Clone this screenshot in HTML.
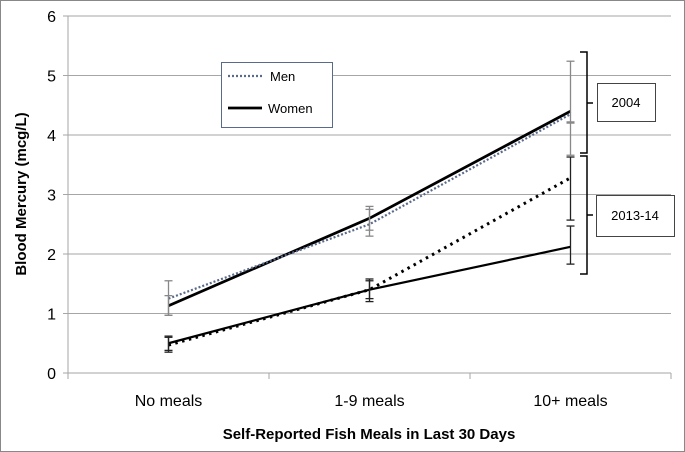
<!DOCTYPE html>
<html><head><meta charset="utf-8"><style>
body{margin:0;background:#fff}
svg{display:block;font-family:"Liberation Sans",sans-serif}
</style></head><body>
<svg id="chart" width="685" height="452" viewBox="0 0 685 452">
<rect x="0.5" y="0.5" width="684" height="451" fill="#fff" stroke="#888"/>
<g id="grid"></g><g id="axes"></g><g id="series"></g><g id="errs"></g>
<text transform="translate(26,194) rotate(-90)" text-anchor="middle" font-size="15" font-weight="bold">Blood Mercury (mcg/L)</text>
<text x="369" y="439" text-anchor="middle" font-size="15" font-weight="bold">Self-Reported Fish Meals in Last 30 Days</text>
<g>
<rect x="221.5" y="62.5" width="111" height="65" fill="#fff" stroke="#5a6a8a"/>
<line x1="228" y1="76" x2="262" y2="76" stroke="#5a6a8a" stroke-width="2.2" stroke-dasharray="2,2"/>
<text x="270" y="81" font-size="13">Men</text>
<line x1="228" y1="108" x2="262" y2="108" stroke="#000" stroke-width="2.8"/>
<text x="268" y="113" font-size="13">Women</text>
</g>
<g fill="none" stroke="#000" stroke-width="1.5">
<path d="M580,52 H587 V153 H580 M587,103 H593"/>
</g>
<rect x="597.5" y="83.5" width="58" height="38" fill="#fff" stroke="#444"/>
<text x="626" y="107" text-anchor="middle" font-size="13">2004</text>
<g fill="none" stroke="#000" stroke-width="1.5">
<path d="M580,156 H587 V274 H580 M587,215 H593"/>
</g>
<rect x="596.5" y="195.5" width="78" height="41" fill="#fff" stroke="#444"/>
<text x="635" y="220" text-anchor="middle" font-size="13">2013-14</text>
</svg>
<script>
const categories=["No  meals","1-9 meals","10+ meals"];
const yTicks=[0,1,2,3,4,5,6];
const men2004=[1.25,2.5,4.35];
const women2004=[1.13,2.6,4.4];
const men2013=[0.47,1.4,3.28];
const women2013=[0.5,1.4,2.12];
const men2004Lo=[0.97,2.3,4.22], men2004Hi=[1.55,2.8,5.24];
const women2004Lo=[0.97,2.4,3.66], women2004Hi=[1.3,2.75,4.2];
const men2013Lo=[0.38,1.2,2.57], men2013Hi=[0.62,1.58,3.63];
const women2013Lo=[0.35,1.25,1.83], women2013Hi=[0.6,1.55,2.47];
const NS="http://www.w3.org/2000/svg";
const x0=68,x1=671,y0=373,yTop=16;
const xs=i=>x0+(i+0.5)*(x1-x0)/categories.length;
const ys=v=>y0-(v/6)*(y0-yTop);
function mk(t,a,p){const e=document.createElementNS(NS,t);for(const k in a)e.setAttribute(k,a[k]);p.appendChild(e);return e;}
const grid=document.getElementById('grid'),axes=document.getElementById('axes'),ser=document.getElementById('series'),errs=document.getElementById('errs');
yTicks.forEach(v=>{
 if(v>0){const g=mk('line',{x1:x0,x2:x1,y1:ys(v),y2:ys(v),stroke:'#a6a6a6','stroke-width':1},grid);
 
 }
 const t=mk('line',{x1:x0-5,x2:x0,y1:ys(v),y2:ys(v),stroke:'#a6a6a6'},axes);
 const l=mk('text',{x:x0-12,y:ys(v)+6,'text-anchor':'end','font-size':16},axes);l.textContent=v;
 
 
});
mk('line',{x1:x0,x2:x0,y1:yTop,y2:y0,stroke:'#a6a6a6'},axes);
mk('line',{x1:x0,x2:x1,y1:y0,y2:y0,stroke:'#a6a6a6'},axes);
for(let i=0;i<=categories.length;i++){mk('line',{x1:x0+i*(x1-x0)/3,x2:x0+i*(x1-x0)/3,y1:y0,y2:y0+6,stroke:'#a6a6a6'},axes);}
categories.forEach((c,i)=>{const l=mk('text',{x:xs(i),y:y0+33,'text-anchor':'middle','font-size':16},axes);l.textContent=c;
 
 });
function line(d,st,name){const p=mk('polyline',Object.assign({points:d.map((v,i)=>xs(i)+','+ys(v)).join(' '),fill:'none'},st),ser);
 
 }
line(women2004,{stroke:'#000','stroke-width':2.8},'line-women-2004');
line(men2004,{stroke:'#5a6a8a','stroke-width':2.2,'stroke-dasharray':'2,2'},'line-men-2004');
line(women2013,{stroke:'#000','stroke-width':2.2},'line-women-2013');
line(men2013,{stroke:'#000','stroke-width':3,'stroke-dasharray':'2.5,4.5'},'line-men-2013');
function eb(lo,hi,col,name){lo.forEach((l,i)=>{const x=xs(i),g=mk('g',{stroke:col,'stroke-width':1.3},errs);
 
 
 mk('line',{x1:x,x2:x,y1:ys(l),y2:ys(hi[i])},g);
 mk('line',{x1:x-4,x2:x+4,y1:ys(l),y2:ys(l)},g);
 mk('line',{x1:x-4,x2:x+4,y1:ys(hi[i]),y2:ys(hi[i])},g);});}
eb(men2004Lo,men2004Hi,'#888','error-bar-men-2004');
eb(women2004Lo,women2004Hi,'#888','error-bar-women-2004');
eb(men2013Lo,men2013Hi,'#222','error-bar-men-2013');
eb(women2013Lo,women2013Hi,'#222','error-bar-women-2013');
</script>
</body></html>
